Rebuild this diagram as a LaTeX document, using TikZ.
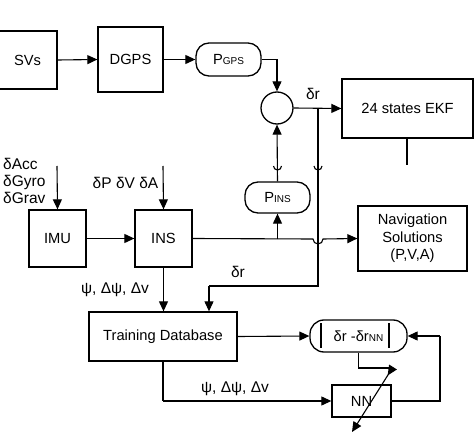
\documentclass[tikz,border=0pt]{standalone}
\usepackage{fontspec}
\setmainfont{Liberation Sans}
\usetikzlibrary{arrows.meta}
\tikzset{
  blk/.style={draw, line width=1.3pt, inner sep=0pt, align=center, font=\fontsize{14.7}{17.5}\selectfont},
  pill/.style={blk, rounded corners=13pt},
  conn/.style={line width=1.1pt},
  arr/.style={conn, -{Triangle[length=10pt,width=9pt]}},
  lbl/.style={font=\fontsize{15.5}{17}\selectfont, inner sep=0pt, align=left}
}
\newcommand{\smallsub}[1]{{\fontsize{10}{10}\selectfont #1}}
\begin{document}
\begin{tikzpicture}[x=1pt,y=-1pt]
\useasboundingbox (0,0) rectangle (474,433);
% blocks
\node[blk, minimum width=59pt, minimum height=58pt] (svs) at (27.5,60) {SVs};
\node[blk, minimum width=65pt, minimum height=65pt] (dgps) at (130.5,59.5) {DGPS};
\node[pill, minimum width=65pt, minimum height=33pt] (pgps) at (228.5,59.5) {P\smallsub{GPS}};
\node[draw, circle, line width=1.3pt, minimum size=32pt, inner sep=0pt] (sum) at (277,108) {};
\node[blk, minimum width=131pt, minimum height=59pt] (ekf) at (407.5,108.5) {24 states EKF};
\node[pill, minimum width=65pt, minimum height=31pt] (pins) at (277.5,197.5) {P\smallsub{INS}};
\node[blk, minimum width=109pt, minimum height=65pt] (nav) at (412.5,238.5) {Navigation\\Solutions\\(P,V,A)};
\node[blk, minimum width=57pt, minimum height=57pt] (imu) at (57.5,238.5) {IMU};
\node[blk, minimum width=57pt, minimum height=57pt] (ins) at (163.5,238.5) {INS};
\node[blk, minimum width=148pt, minimum height=49pt] (td) at (163,336.5) {Training Database};
\node[pill, minimum width=97pt, minimum height=32pt, rounded corners=14pt] (err) at (358.5,336) {δr -δr\smallsub{NN}};
\node[blk, minimum width=59pt, minimum height=32pt] (nn) at (361.5,401) {NN};
% bars in error block
\draw[line width=1.3pt] (321,323) -- (321,348);
\draw[line width=1.3pt] (389,323) -- (389,348);
% coordinates
\coordinate (br) at (318,108);
\coordinate (brd) at (318,286);
\coordinate (brl) at (209,286);
\coordinate (ekfend) at (407,165);
\coordinate (imuin) at (57,166);
\coordinate (insin) at (163,166);
\coordinate (pinsbr) at (277.5,239);
\coordinate (tdd) at (163,401);
\coordinate (nnr) at (440,401);
\coordinate (nnu) at (440,336);
\coordinate (ed) at (358.5,368);
\coordinate (eright) at (393,368);
\coordinate (dtop) at (393,367);
\coordinate (dbot) at (352,432);
% connectors
\draw[arr] (svs.east) -- (dgps.west);
\draw[arr] (dgps.east) -- (pgps.west);
\draw[arr] (pgps.east) -| (sum.north);
\draw[arr] (pins.north) -- (sum.south);
\draw[arr] (sum.east) -- (ekf.west);
\draw[conn] (ekf.south -| ekfend) -- (ekfend);
\draw[conn] (br) -- (brd) -- (brl);
\draw[arr] (brl) -- (td.north -| brl);
\draw[arr] (imuin) -- (imu.north);
\draw[arr] (insin) -- (ins.north);
\draw[arr] (imu.east) -- (ins.west);
\draw[arr] (ins.east) -- (313,239) arc[start angle=180, end angle=0, radius=5] -- (nav.west);
\draw[arr] (pinsbr) -- (pins.south);
\draw[arr] (ins.south) -- (td.north -| ins.south);
\draw[arr] (td.east) -- (err.west);
\draw[conn] (td.south) -- (tdd);
\draw[arr] (tdd) -- (nn.west);
\draw[conn] (nn.east) -- (nnr) -- (nnu);
\draw[arr] (nnu) -- (err.east);
\draw[conn] (err.south) -- (ed) -- (eright);
\draw[conn, {Triangle[reversed,length=10pt,width=9pt]}-{Triangle[length=10pt,width=9pt]}] (dtop) -- (dbot);
% hop marks
\draw[conn] (273.5,166) arc[start angle=180, end angle=0, radius=4];
\draw[conn] (314,166) arc[start angle=180, end angle=0, radius=4];
% labels
\node[lbl] (l1) at (313,94) {δr};
\node[lbl] (l2) at (238,272) {δr};
\node[lbl, anchor=west] (l3) at (3,180.5) {δAcc\\δGyro\\δGrav};
\node[lbl] (l4) at (125.5,183) {δP δV δA};
\node[lbl] (l5) at (115,290) {ψ, Δψ, Δv};
\node[lbl] (l6) at (235,389) {ψ, Δψ, Δv};
\end{tikzpicture}
\end{document}
